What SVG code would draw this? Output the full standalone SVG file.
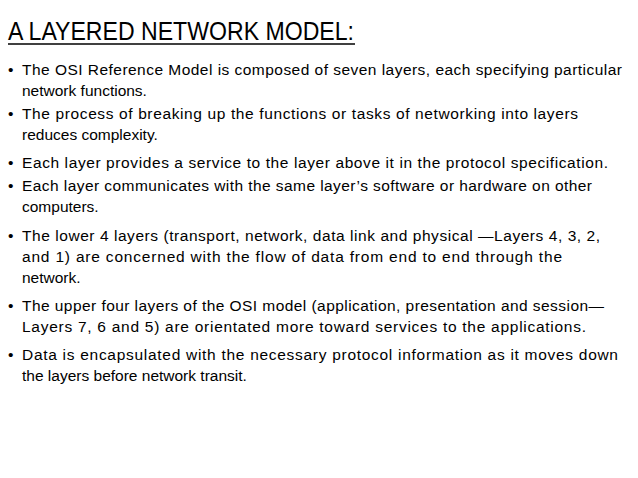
<svg xmlns="http://www.w3.org/2000/svg" width="638" height="478" viewBox="0 0 638 478">
<style>
.t{font-family:"Liberation Sans",Arial,sans-serif;font-size:15.5px;fill:#000}
.b{font-family:"Liberation Sans",Arial,sans-serif;font-size:15.5px;fill:#000}
</style>
<rect width="638" height="478" fill="#fff"/>
<g id="title">
<text x="8" y="40" font-family="Liberation Sans,Arial,sans-serif" font-size="26" textLength="346" lengthAdjust="spacingAndGlyphs">A LAYERED NETWORK MODEL:</text>
<line x1="8" y1="44" x2="355" y2="44" stroke="#000" stroke-width="1.5"/>
</g>
<g id="bullets">
<text class="b" x="8" y="75">•</text>
<text class="t" x="22" y="75" textLength="600">The OSI Reference Model is composed of seven layers, each specifying particular</text>
<text class="t" x="22" y="96">network functions.</text>
<text class="b" x="8" y="119">•</text>
<text class="t" x="22" y="119" textLength="556">The process of breaking up the functions or tasks of networking into layers</text>
<text class="t" x="22" y="140">reduces complexity.</text>
<text class="b" x="8" y="168">•</text>
<text class="t" x="22" y="168" textLength="586">Each layer provides a service to the layer above it in the protocol specification.</text>
<text class="b" x="8" y="191">•</text>
<text class="t" x="22" y="191" textLength="570">Each layer communicates with the same layer’s software or hardware on other</text>
<text class="t" x="22" y="212">computers.</text>
<text class="b" x="8" y="241">•</text>
<text class="t" x="22" y="241" textLength="578">The lower 4 layers (transport, network, data link and physical —Layers 4, 3, 2,</text>
<text class="t" x="22" y="262" textLength="540">and 1) are concerned with the flow of data from end to end through the</text>
<text class="t" x="22" y="283">network.</text>
<text class="b" x="8" y="311">•</text>
<text class="t" x="22" y="311" textLength="582">The upper four layers of the OSI model (application, presentation and session—</text>
<text class="t" x="22" y="332" textLength="564">Layers 7, 6 and 5) are orientated more toward services to the applications.</text>
<text class="b" x="8" y="360">•</text>
<text class="t" x="22" y="360" textLength="596">Data is encapsulated with the necessary protocol information as it moves down</text>
<text class="t" x="22" y="381">the layers before network transit.</text>
</g>
</svg>
